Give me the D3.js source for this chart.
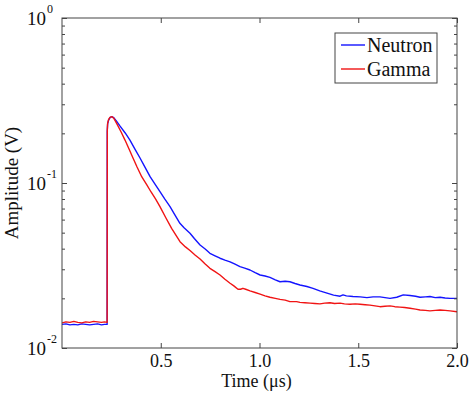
<!DOCTYPE html>
<html>
<head>
<meta charset="utf-8">
<script src="https://cdn.jsdelivr.net/npm/d3@7"></script>
<style>
  body { margin: 0; background: #fff; }
  svg { display: block; }
</style>
</head>
<body>
<svg class="vis1" width="474" height="394"></svg>
<script>
// Amplitude vs time, neutron and gamma pulses (log y)

const xDomain = [0, 2];
const yDomain = [0.01, 1];
const xTickValues = [0.5, 1.0, 1.5, 2.0];
const yTickExps = [-2, -1, 0];
const seriesNames = ["Neutron", "Gamma"];
const seriesColors = ["#1414ff", "#f01414"];

const neutronTime = [0, 0.02, 0.04, 0.06, 0.08, 0.10, 0.12, 0.14, 0.16, 0.18, 0.20, 0.215, 0.2285,
    0.229, 0.231, 0.236, 0.243, 0.252, 0.262, 0.275, 0.294, 0.320, 0.344, 0.370, 0.395, 0.420,
    0.446, 0.470, 0.496, 0.520, 0.547, 0.570, 0.597, 0.618, 0.648, 0.670, 0.699, 0.725, 0.749,
    0.775, 0.800, 0.825, 0.851, 0.876, 0.901, 0.925, 0.952, 0.978, 1.003, 1.028, 1.053, 1.080,
    1.104, 1.130, 1.154, 1.180, 1.205, 1.240, 1.271, 1.305, 1.342, 1.375, 1.408, 1.423, 1.440,
    1.473, 1.510, 1.544, 1.575, 1.610, 1.661, 1.695, 1.728, 1.762, 1.790, 1.813, 1.840, 1.863,
    1.890, 1.914, 1.940, 1.965, 2.000];
const neutronAmp = [0.0139, 0.0140, 0.0138, 0.0139, 0.0138, 0.0140, 0.0139, 0.0138, 0.0139, 0.0140, 0.0138, 0.0139, 0.0139,
    0.205, 0.228, 0.240, 0.249, 0.2525, 0.249, 0.238, 0.221, 0.201, 0.182, 0.160, 0.1417, 0.1247,
    0.1092, 0.0988, 0.0886, 0.0801, 0.0719, 0.0646, 0.0570, 0.0535, 0.0496, 0.0461, 0.0421, 0.0398, 0.0375,
    0.0362, 0.0350, 0.0341, 0.0333, 0.0322, 0.0311, 0.0305, 0.0297, 0.0286, 0.0277, 0.0273, 0.0268, 0.0259,
    0.0252, 0.0254, 0.0252, 0.0246, 0.0241, 0.0236, 0.0230, 0.0222, 0.0215, 0.0209, 0.0206, 0.0210, 0.0207,
    0.0205, 0.0204, 0.0202, 0.0204, 0.0204, 0.0200, 0.0203, 0.0210, 0.0208, 0.0206, 0.0203, 0.0204, 0.0205,
    0.0202, 0.0203, 0.0201, 0.0200, 0.0200];

const gammaTime = [0, 0.02, 0.04, 0.06, 0.08, 0.10, 0.12, 0.14, 0.16, 0.18, 0.20, 0.215, 0.2285,
    0.2295, 0.231, 0.236, 0.243, 0.252, 0.262, 0.278, 0.300, 0.319, 0.340, 0.3595, 0.380, 0.4035,
    0.428, 0.451, 0.475, 0.496, 0.525, 0.555, 0.5975, 0.625, 0.648, 0.675, 0.699, 0.725, 0.749,
    0.775, 0.800, 0.825, 0.851, 0.870, 0.891, 0.904, 0.916, 0.930, 0.952, 0.978, 1.003, 1.028,
    1.053, 1.080, 1.104, 1.130, 1.154, 1.188, 1.205, 1.230, 1.256, 1.280, 1.306, 1.330, 1.357,
    1.380, 1.408, 1.430, 1.458, 1.485, 1.509, 1.535, 1.559, 1.585, 1.610, 1.635, 1.661, 1.685,
    1.711, 1.735, 1.762, 1.790, 1.813, 1.840, 1.863, 1.890, 1.914, 1.940, 1.965, 2.000];
const gammaAmp = [0.0142, 0.0144, 0.0143, 0.0145, 0.0143, 0.0142, 0.0144, 0.0143, 0.0145, 0.0144, 0.0143, 0.0144, 0.0143,
    0.210, 0.230, 0.243, 0.250, 0.2525, 0.247, 0.228, 0.203, 0.182, 0.160, 0.1417, 0.125, 0.1092,
    0.098, 0.0882, 0.0795, 0.0719, 0.0618, 0.0531, 0.0441, 0.0410, 0.0390, 0.0365, 0.0346, 0.0323, 0.0304,
    0.0290, 0.0277, 0.0261, 0.0247, 0.0238, 0.0227, 0.0227, 0.0230, 0.0227, 0.0222, 0.0217, 0.0212, 0.0207,
    0.0203, 0.0200, 0.0197, 0.0195, 0.0191, 0.0191, 0.0189, 0.0188, 0.0187, 0.0186, 0.0185, 0.0187, 0.0188,
    0.0186, 0.0187, 0.0185, 0.0184, 0.0185, 0.0184, 0.0183, 0.0182, 0.0180, 0.0178, 0.0179, 0.0180, 0.0178,
    0.0177, 0.0176, 0.0174, 0.0172, 0.0170, 0.0169, 0.0168, 0.0169, 0.0170, 0.0169, 0.0168, 0.0166];

const font = "'Liberation Serif', 'Times New Roman', serif";
const axisColor = "#444";

const svg = d3.select(".vis1");

const plotLeft = 62, plotRight = 457, plotTop = 18, plotBottom = 348;

const x = d3.scaleLinear().domain(xDomain).range([plotLeft, plotRight]);
const y = d3.scaleLog().domain(yDomain).range([plotBottom, plotTop]);

// Minor ticks 2..9 of each decade
const majorY = yTickExps.map(e => Math.pow(10, e));
const minorY = [];
yTickExps.slice(0, -1).forEach(function (e) {
    for (let k = 2; k <= 9; k++) minorY.push(k * Math.pow(10, e));
});

svg.append("clipPath")
    .attr("id", "plotClip")
    .append("rect")
    .attr("x", plotLeft)
    .attr("y", plotTop)
    .attr("width", plotRight - plotLeft)
    .attr("height", plotBottom - plotTop);

// Lines
const line = d3.line()
    .x(d => x(d[0]))
    .y(d => y(d[1]));

const series = [d3.zip(neutronTime, neutronAmp), d3.zip(gammaTime, gammaAmp)];

svg.append("g")
    .attr("clip-path", "url(#plotClip)")
    .selectAll("path")
    .data(series)
    .enter().append("path")
    .attr("d", line)
    .attr("fill", "none")
    .attr("stroke", (d, i) => seriesColors[i])
    .attr("stroke-width", 1.4)
    .attr("stroke-linejoin", "round");

// Axes (ticks pointing inward, box style)
function styleAxis(g) {
    g.select(".domain").remove();
    g.selectAll(".tick line").attr("stroke", axisColor);
    g.selectAll(".tick text")
        .attr("font-family", font)
        .attr("font-size", "18px")
        .attr("fill", "#111");
}

svg.append("g")
    .attr("transform", "translate(0," + plotBottom + ")")
    .call(d3.axisBottom(x).tickValues(xTickValues).tickSize(-5).tickPadding(6).tickFormat(d3.format(".1f")))
    .call(styleAxis);

svg.append("g")
    .attr("transform", "translate(0," + plotTop + ")")
    .call(d3.axisTop(x).tickValues(xTickValues).tickSize(-5).tickFormat(""))
    .call(styleAxis);

svg.append("g")
    .attr("transform", "translate(" + plotLeft + ",0)")
    .call(d3.axisLeft(y).tickValues(majorY).tickSize(-5).tickFormat(""))
    .call(styleAxis);

svg.append("g")
    .attr("transform", "translate(" + plotLeft + ",0)")
    .call(d3.axisLeft(y).tickValues(minorY).tickSize(-3).tickFormat(""))
    .call(styleAxis);

svg.append("g")
    .attr("transform", "translate(" + plotRight + ",0)")
    .call(d3.axisRight(y).tickValues(majorY).tickSize(-5).tickFormat(""))
    .call(styleAxis);

svg.append("g")
    .attr("transform", "translate(" + plotRight + ",0)")
    .call(d3.axisRight(y).tickValues(minorY).tickSize(-3).tickFormat(""))
    .call(styleAxis);

svg.append("rect")
    .attr("x", plotLeft)
    .attr("y", plotTop)
    .attr("width", plotRight - plotLeft)
    .attr("height", plotBottom - plotTop)
    .attr("fill", "none")
    .attr("stroke", axisColor)
    .attr("stroke-width", 1);

// y tick labels 10^e
const yLabels = svg.append("g");
yTickExps.forEach(function (e) {
    const yy = y(Math.pow(10, e));
    yLabels.append("text")
        .attr("x", 46)
        .attr("y", yy + 6.5)
        .attr("text-anchor", "end")
        .attr("font-family", font)
        .attr("font-size", "19px")
        .attr("fill", "#111")
        .text("10");
    yLabels.append("text")
        .attr("x", 47)
        .attr("y", yy - 5)
        .attr("font-family", font)
        .attr("font-size", "12px")
        .attr("fill", "#111")
        .text(e);
});

// Axis titles
svg.append("text")
    .attr("x", (plotLeft + plotRight) / 2 - 3)
    .attr("y", 387)
    .attr("text-anchor", "middle")
    .attr("font-family", font)
    .attr("font-size", "18px")
    .attr("fill", "#111")
    .text("Time (\u03bcs)");

svg.append("text")
    .attr("transform", "translate(18," + ((plotTop + plotBottom) / 2) + ") rotate(-90)")
    .attr("text-anchor", "middle")
    .attr("font-family", font)
    .attr("font-size", "19px")
    .attr("fill", "#111")
    .text("Amplitude (V)");

// Legend
const legend = svg.append("g")
    .attr("transform", "translate(335, 33)");

legend.append("rect")
    .attr("width", 102)
    .attr("height", 50)
    .attr("fill", "#fff")
    .attr("stroke", axisColor);

legend.selectAll("line")
    .data(seriesNames).enter()
    .append("line")
    .attr("x1", 6)
    .attr("x2", 30)
    .attr("y1", (d, i) => 12 + i * 24)
    .attr("y2", (d, i) => 12 + i * 24)
    .attr("stroke", (d, i) => seriesColors[i])
    .attr("stroke-width", 1.4);

legend.selectAll("text")
    .data(seriesNames).enter()
    .append("text")
    .attr("x", 32)
    .attr("y", (d, i) => 12 + i * 24 + 6.5)
    .attr("font-family", font)
    .attr("font-size", "20px")
    .attr("fill", "#111")
    .text(d => d);
</script>
</body>
</html>
